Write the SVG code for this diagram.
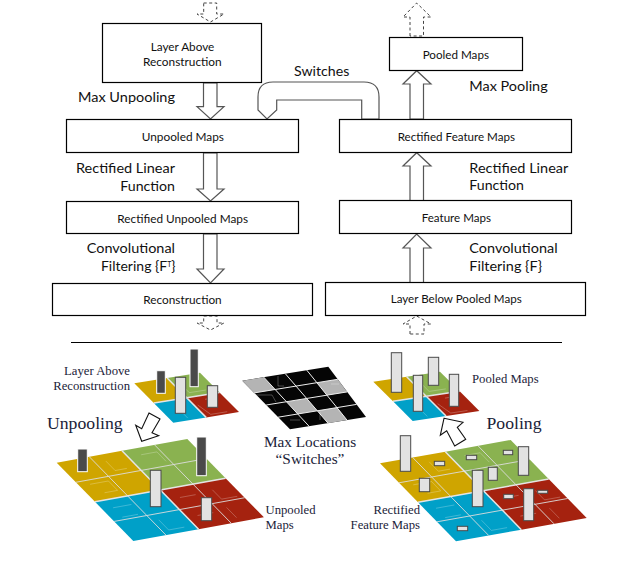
<svg xmlns="http://www.w3.org/2000/svg" xmlns:xlink="http://www.w3.org/1999/xlink" width="633" height="563" viewBox="0 0 633 563">
<style>
.box{fill:#fff;stroke:#000;stroke-width:1.2}
.flow{fill:#fff;stroke:#555;stroke-width:1.2;stroke-linejoin:miter}
.dash{fill:none;stroke:#444;stroke-width:1;stroke-dasharray:3 2.5}
.t{font-family:"Lato","Carlito","Liberation Sans",sans-serif;fill:#111}
.b{font-size:11px;text-anchor:start}
.l{font-size:14px}
.s{font-family:"Liberation Serif","Times New Roman",serif;fill:#1a2238;font-size:12.7px}
.h{font-size:17.7px}
.m{font-size:15.3px}
.dark{fill:#4a4a4a;stroke:#fff;stroke-width:1}
.light{fill:#e2e2e2;stroke:#4a4a4a;stroke-width:1}
.main{stroke:#e4e4e4;stroke-width:1.5;fill:none;vector-effect:non-scaling-stroke}
.sub{stroke:#ddd;stroke-width:.9;fill:none;vector-effect:non-scaling-stroke}
.dec{stroke:#fff;stroke-opacity:.35;stroke-width:.7;fill:none;vector-effect:non-scaling-stroke}
.fat{fill:#fff;stroke:#111;stroke-width:1.1}
</style>
<defs>
<g id="quads">
<polygon fill="#cfa500" points="0,0 50,0 50,50 0,50"/>
<polygon fill="#8ab250" points="50,0 100,0 100,50 50,50"/>
<polygon fill="#00a0c8" points="0,50 50,50 50,100 0,100"/>
<polygon fill="#a5220f" points="50,50 100,50 100,100 50,100"/>
</g>
<g id="small-map">
<use xlink:href="#quads"/>
<path class="main" d="M50,0V100M0,50H100"/>
<path class="dec" d="M60,12V40H85M72,60H90M55,70L60,95H85M25,70V95"/>
</g>
<g id="big-map">
<use xlink:href="#quads"/>
<path class="sub" d="M25,0V100M75,0V100M0,25H100M0,75H100"/>
<path class="main" d="M50,0V100M0,50H100"/>
<path class="dec" d="M33,8V20H42M8,30H22V42H12M60,8H72V20M84,60V72H96M58,62H70M82,82V95M58,85H70M8,60H22M8,72H20M30,82V95H42"/>
</g>
</defs>

<g id="connectors">
<path class="dash" d="M203.7,3H216.7V14H224L210.5,22L197,14H203.7Z"/>
<polygon class="flow" points="203.5,83 217,83 217,106.7 224,106.7 210.5,119 197,106.7 203.5,106.7"/>
<polygon class="flow" points="203.5,153 217,153 217,189 224,189 210.5,201 197,189 203.5,189"/>
<polygon class="flow" points="203.5,234 217,234 217,269 224,269 210.5,283 197,269 203.5,269"/>
<path class="dash" d="M203.7,316H217V323H224L210.5,330L197,323H203.7Z"/>
<path class="dash" d="M410,36V17H403L416.7,3L431,17H423.5V36Z"/>
<polygon class="flow" points="410,119 423.5,119 423.5,84 431,84 416.7,70.7 403,84 410,84"/>
<polygon class="flow" points="410,201 423.5,201 423.5,166 431,166 416.7,152.7 403,166 410,166"/>
<polygon class="flow" points="410,283 423.5,283 423.5,248 431,248 416.7,234 403,248 410,248"/>
<path class="dash" d="M410,334V324H403L416.7,316L431,324H424V334Z"/>
<path class="flow" d="M379,119V97Q379,82 364,82H273Q258,82 258,97V110L267,119L276.7,110V100H361.7V119Z"/>
</g>

<g id="layer-above"><rect class="box" x="102.5" y="23.5" width="159" height="59"/>
<text class="t b" x="150.7" y="51" textLength="63.6" lengthAdjust="spacingAndGlyphs">Layer Above</text>
<text class="t b" x="143" y="66" textLength="78.7" lengthAdjust="spacingAndGlyphs">Reconstruction</text></g>
<g id="unpooled-maps"><rect class="box" x="66.5" y="119.5" width="232" height="33"/>
<text class="t b" x="141.7" y="140.7" textLength="82.3" lengthAdjust="spacingAndGlyphs">Unpooled Maps</text></g>
<g id="rectified-unpooled-maps"><rect class="box" x="66.5" y="201.5" width="232" height="32"/>
<text class="t b" x="117.3" y="222.7" textLength="130.7" lengthAdjust="spacingAndGlyphs">Rectified Unpooled Maps</text></g>
<g id="reconstruction"><rect class="box" x="52.5" y="283.5" width="260" height="32"/>
<text class="t b" x="143.3" y="304.3" textLength="78.4" lengthAdjust="spacingAndGlyphs">Reconstruction</text></g>
<g id="pooled-maps"><rect class="box" x="389.5" y="37.5" width="133" height="33"/>
<text class="t b" x="422.7" y="58.7" textLength="66.3" lengthAdjust="spacingAndGlyphs">Pooled Maps</text></g>
<g id="rectified-feature-maps"><rect class="box" x="339.5" y="119.5" width="232" height="33"/>
<text class="t b" x="397.7" y="140.7" textLength="117.3" lengthAdjust="spacingAndGlyphs">Rectified Feature Maps</text></g>
<g id="feature-maps"><rect class="box" x="339.5" y="200.5" width="232" height="33"/>
<text class="t b" x="421.7" y="221.7" textLength="69.3" lengthAdjust="spacingAndGlyphs">Feature Maps</text></g>
<g id="layer-below"><rect class="box" x="325.5" y="282.5" width="260" height="33"/>
<text class="t b" x="390.7" y="303.3" textLength="131" lengthAdjust="spacingAndGlyphs">Layer Below Pooled Maps</text></g>

<g id="labels">
<text class="t l" x="78" y="102" textLength="97" lengthAdjust="spacingAndGlyphs">Max Unpooling</text>
<text class="t l" x="294" y="76" textLength="55.3" lengthAdjust="spacingAndGlyphs">Switches</text>
<text class="t l" x="469.3" y="90.7" textLength="78.4" lengthAdjust="spacingAndGlyphs">Max Pooling</text>
<text class="t l" x="76" y="173" textLength="99" lengthAdjust="spacingAndGlyphs">Rectified Linear</text>
<text class="t l" x="120.3" y="190.7" textLength="54.7" lengthAdjust="spacingAndGlyphs">Function</text>
<text class="t l" x="86.7" y="252.7" textLength="88.3" lengthAdjust="spacingAndGlyphs">Convolutional</text>
<text class="t l" x="175.5" y="271" text-anchor="end">Filtering {F<tspan font-size="7" dy="-4">T</tspan><tspan dy="4">}</tspan></text>
<text class="t l" x="469.3" y="173" textLength="99" lengthAdjust="spacingAndGlyphs">Rectified Linear</text>
<text class="t l" x="469.3" y="190.3" textLength="54.7" lengthAdjust="spacingAndGlyphs">Function</text>
<text class="t l" x="469.3" y="252.7" textLength="88.3" lengthAdjust="spacingAndGlyphs">Convolutional</text>
<text class="t l" x="469.3" y="271" textLength="72.7" lengthAdjust="spacingAndGlyphs">Filtering {F}</text>
</g>

<line x1="71" y1="342.5" x2="562" y2="342.5" stroke="#000" stroke-width="1"/>

<g id="map-layer-above">
<use xlink:href="#small-map" transform="matrix(.657,-.106,.39,.394,134.3,383.3)"/>
<rect class="dark" x="156.7" y="370.7" width="8.6" height="22.6"/>
<rect class="dark" x="190" y="349" width="8.3" height="37.7"/>
<rect class="light" x="175.3" y="377.3" width="10.4" height="36"/>
<rect class="light" x="207.3" y="385.7" width="10.4" height="21.6"/>
</g>
<g id="map-unpooled">
<use xlink:href="#big-map" transform="matrix(1.306,-.237,.766,.783,56.7,462.7)"/>
<rect class="dark" x="77.7" y="449" width="9.6" height="22.7"/>
<rect class="dark" x="196.7" y="437" width="9.6" height="38.7"/>
<rect class="light" x="150.3" y="470.3" width="10.7" height="36.4"/>
<rect class="light" x="201.3" y="497.7" width="10.4" height="23"/>
</g>
<g id="map-switches">
<polygon fill="#050505" points="242.3,380.7 328.3,366.7 366,417 290,429.3"/>
<polygon fill="#b4b4b4" points="242.3,380.7 263.8,377.2 275.1,389.5 254.2,392.9"/>
<polygon fill="#b4b4b4" points="316.8,382.7 337.7,379.3 347.2,391.9 327,395.2"/>
<polygon fill="#b4b4b4" points="286.5,401.7 306.7,398.5 317.4,410.8 297.7,414"/>
<polygon fill="#b4b4b4" points="317.4,410.8 337,407.6 347,420.1 328,423.2"/>
<path fill="none" stroke="#eee" stroke-width="1" d="M263.8,377.2L309,426.2M285.3,373.7L328,423.2M306.8,370.2L347,420.1M254.2,392.9L337.7,379.3M266.2,405L347.2,391.9M278.1,417.2L356.6,404.4"/>
<path fill="none" stroke="#fff" stroke-opacity=".45" stroke-width=".6" d="M278,376V386H284M331,384H339M320,412V420M256,395H272L276,402M290,420H300"/>
</g>
<g id="map-pooled">
<use xlink:href="#small-map" transform="matrix(.667,-.1,.394,.393,373.3,381.7)"/>
<rect class="light" x="391.3" y="352.7" width="10.4" height="39.6"/>
<rect class="light" x="428.3" y="357.3" width="10.4" height="28"/>
<rect class="light" x="413.3" y="375.3" width="9.4" height="36"/>
<rect class="light" x="449.3" y="374.3" width="9.4" height="32"/>
</g>
<g id="map-rectified">
<use xlink:href="#big-map" transform="matrix(1.307,-.233,.76,.78,380,463.3)"/>
<rect class="light" x="400.3" y="435.7" width="10.4" height="35.6"/>
<rect class="light" x="434.3" y="461.3" width="10.4" height="4.4"/>
<rect class="light" x="466.3" y="455.3" width="10.4" height="4.4"/>
<rect class="light" x="503.3" y="450.3" width="9.4" height="4.4"/>
<rect class="light" x="518.3" y="446.7" width="10.4" height="28.6"/>
<rect class="light" x="488.3" y="467.3" width="9" height="13"/>
<rect class="light" x="419.3" y="478.3" width="10.4" height="13.4"/>
<rect class="light" x="472.3" y="470.3" width="10.7" height="36.4"/>
<rect class="light" x="503.7" y="494.3" width="9.6" height="4.4"/>
<rect class="light" x="537.7" y="490.3" width="10" height="3"/>
<rect class="light" x="523.7" y="488.7" width="10" height="32"/>
<rect class="light" x="457.3" y="526.3" width="10.4" height="4.4"/>
</g>
<polygon id="arrow-unpooling" class="fat" points="149,413 160,419 152,432.7 158.7,435.7 141.7,441.3 135.7,425.3 141.7,428.7"/>
<polygon id="arrow-pooling" class="fat" points="444,418.3 463,422.3 457.3,427.3 465.7,439.3 454.7,446 446.7,430.7 440.3,435.3"/>

<g id="map-labels">
<text class="s" x="130" y="375" text-anchor="end">Layer Above</text>
<text class="s" x="130" y="389.5" text-anchor="end">Reconstruction</text>
<text class="s h" x="47" y="429">Unpooling</text>
<text class="s" x="265.5" y="514">Unpooled</text>
<text class="s" x="265.5" y="529">Maps</text>
<text class="s m" x="310" y="447" text-anchor="middle">Max Locations</text>
<text class="s m" x="310" y="464" text-anchor="middle">“Switches”</text>
<text class="s" x="472" y="383">Pooled Maps</text>
<text class="s h" x="486.5" y="429">Pooling</text>
<text class="s" x="420" y="514" text-anchor="end">Rectified</text>
<text class="s" x="420" y="529" text-anchor="end">Feature Maps</text>
</g>
</svg>
